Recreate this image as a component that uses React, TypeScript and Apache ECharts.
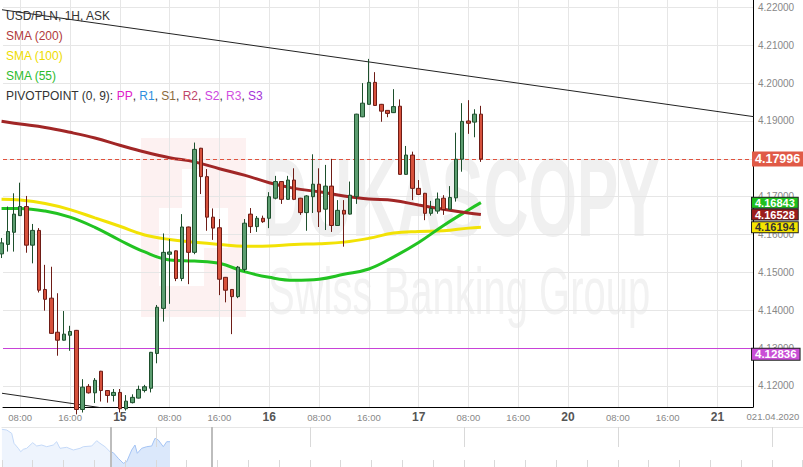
import React, { useEffect, useRef } from 'react';
import * as echarts from 'echarts';

const FONT = '"Liberation Sans", Arial, Helvetica, sans-serif';

// ---------- main chart data (hour index: hours of trading time since 14 Apr 00:00) ----------
const candleStartHour = 5;
const candleOpen = [
  4.1549, 4.1574, 4.1606, 4.1650, 4.1674, 4.1572, 4.1611, 4.1455, 4.1432, 4.1342,
  4.1321, 4.1334, 4.1347, 4.1138, 4.1199, 4.1182, 4.1239, 4.1188, 4.1175, 4.1183,
  4.1140, 4.1156, 4.1168, 4.1188, 4.1194, 4.1286, 4.1405, 4.1548, 4.1557, 4.1484,
  4.1620, 4.1553, 4.1828, 4.1753, 4.1646, 4.1618, 4.1487, 4.1455, 4.1436, 4.1508,
  4.1654, 4.1621, 4.1643, 4.1643, 4.1696, 4.1740, 4.1693, 4.1744, 4.1696, 4.1658,
  4.1700, 4.1733, 4.1667, 4.1728, 4.1624, 4.1664, 4.1654, 4.1700, 4.1911, 4.1944,
  4.2002, 4.1944, 4.1928, 4.1922, 4.1939, 4.1759, 4.1810, 4.1722, 4.1709, 4.1656,
  4.1662, 4.1696, 4.1667, 4.1697, 4.1799, 4.1900, 4.1897, 4.1918,
];
const candleClose = [
  4.1578, 4.1608, 4.1654, 4.1674, 4.1572, 4.1611, 4.1453, 4.1429, 4.1339, 4.1321,
  4.1337, 4.1344, 4.1138, 4.1197, 4.1182, 4.1215, 4.1188, 4.1175, 4.1183, 4.1140,
  4.1160, 4.1170, 4.1191, 4.1198, 4.1289, 4.1408, 4.1553, 4.1554, 4.1484, 4.1620,
  4.1553, 4.1825, 4.1753, 4.1646, 4.1617, 4.1482, 4.1453, 4.1436, 4.1514, 4.1630,
  4.1621, 4.1643, 4.1634, 4.1700, 4.1740, 4.1693, 4.1744, 4.1693, 4.1658, 4.1702,
  4.1733, 4.1660, 4.1728, 4.1624, 4.1664, 4.1654, 4.1704, 4.1918, 4.1947, 4.2002,
  4.1941, 4.1926, 4.1920, 4.1938, 4.1759, 4.1810, 4.1722, 4.1706, 4.1656, 4.1669,
  4.1694, 4.1666, 4.1698, 4.1799, 4.1899, 4.1894, 4.1918, 4.17996,
];
const candleLow = [
  4.1538, 4.1555, 4.1555, 4.1649, 4.1552, 4.1524, 4.1447, 4.1399, 4.1338, 4.1280,
  4.1320, 4.1293, 4.1125, 4.1130, 4.1180, 4.1155, 4.1159, 4.1156, 4.1159, 4.1130,
  4.1135, 4.1154, 4.1167, 4.1183, 4.1183, 4.1260, 4.1370, 4.1417, 4.1477, 4.1477,
  4.1469, 4.1548, 4.1707, 4.1610, 4.1586, 4.1440, 4.1421, 4.1337, 4.1432, 4.1502,
  4.1604, 4.1607, 4.1631, 4.1617, 4.1693, 4.1681, 4.1692, 4.1691, 4.1652, 4.1610,
  4.1657, 4.1620, 4.1612, 4.1607, 4.1623, 4.1568, 4.1653, 4.1681, 4.1910, 4.1943,
  4.1940, 4.1898, 4.1910, 4.1921, 4.1758, 4.1758, 4.1691, 4.1705, 4.1638, 4.1650,
  4.1655, 4.1652, 4.1666, 4.1687, 4.1766, 4.1866, 4.1857, 4.1792,
];
const candleHigh = [
  4.1591, 4.1674, 4.1709, 4.1737, 4.1702, 4.1628, 4.1617, 4.1520, 4.1515, 4.1445,
  4.1398, 4.1359, 4.1348, 4.1218, 4.1205, 4.1221, 4.1240, 4.1189, 4.1192, 4.1192,
  4.1176, 4.1178, 4.1201, 4.1203, 4.1290, 4.1414, 4.1603, 4.1588, 4.1558, 4.1654,
  4.1621, 4.1843, 4.1829, 4.1773, 4.1669, 4.1641, 4.1488, 4.1456, 4.1517, 4.1641,
  4.1670, 4.1649, 4.1650, 4.1712, 4.1755, 4.1741, 4.1755, 4.1775, 4.1697, 4.1704,
  4.1812, 4.1775, 4.1784, 4.1800, 4.1691, 4.1691, 4.1740, 4.1919, 4.2000, 4.2064,
  4.2029, 4.1945, 4.1929, 4.1984, 4.1957, 4.1834, 4.1819, 4.1744, 4.1710, 4.1689,
  4.1711, 4.1704, 4.1728, 4.1869, 4.1947, 4.1955, 4.1931, 4.1940,
];

const smaHours = [5, 8, 12, 16, 20, 24, 28, 32, 36, 40, 44, 48, 52, 56, 60, 64, 68, 72, 76, 80, 82];
const sma200 = [4.1899, 4.1892, 4.1883, 4.1870, 4.1855, 4.1836, 4.1818, 4.1803, 4.1792, 4.1774, 4.1757,
  4.1737, 4.1722, 4.1713, 4.1702, 4.1694, 4.1690, 4.1678, 4.1667, 4.1657, 4.16528];
const sma100 = [4.1693, 4.1691, 4.1682, 4.1666, 4.1644, 4.1622, 4.1599, 4.1587, 4.1580, 4.1574, 4.1569,
  4.1570, 4.1574, 4.1576, 4.1580, 4.1590, 4.1604, 4.1608, 4.1610, 4.1617, 4.16194];
const sma55 = [4.1669, 4.1669, 4.1662, 4.1646, 4.1619, 4.1585, 4.1554, 4.1533, 4.1530, 4.1524, 4.1502,
  4.1487, 4.1479, 4.1482, 4.1495, 4.1509, 4.1541, 4.1579, 4.1624, 4.1665, 4.16843];

const trendUpper = [[5, 4.2194], [126, 4.1911]];
const trendLower = [[5, 4.1181], [30, 4.1121]];

const lastPrice = 4.17996;
const pivotLevel = 4.12836;

const xTickHours = [8, 16, 24, 32, 40, 48, 56, 64, 72, 80, 88, 96, 104, 112, 120];
const xTickLabels = ['08:00', '16:00', '15', '08:00', '16:00', '16', '08:00', '16:00', '17',
  '08:00', '16:00', '20', '08:00', '16:00', '21'];

const X_MIN = 5.232;
const X_MAX = 125.712;
const Y_MIN = 4.114453;
const Y_MAX = 4.221955;

// ---------- navigator data ----------
const navLeftPos = [0, 0.156, 0.318, 0.393, 0.532, 0.61, 0.695, 0.805, 1.0, 1.13, 1.292, 1.455,
  1.669, 1.779, 1.886, 2.104, 2.318, 2.536, 2.643, 2.916, 3.078, 3.185, 3.347, 3.51];
const navLeftVals = [4.2308, 4.228, 4.2148, 4.1748, 4.1548, 4.1412, 4.1508, 4.1548, 4.1772, 4.164,
  4.168, 4.1612, 4.168, 4.1812, 4.1548, 4.1588, 4.148, 4.1548, 4.1612, 4.164, 4.1852, 4.1748, 4.1612, 4.1412];
const navWinPos = [3.51, 3.617, 3.779, 3.942, 4.052, 4.214, 4.321, 4.396, 4.539, 4.701, 4.864,
  4.971, 5.078, 5.24, 5.351, 5.458];
const navWinVals = [4.1412, 4.1372, 4.1148, 4.0948, 4.1012, 4.148, 4.168, 4.1348, 4.1548, 4.1612,
  4.164, 4.1948, 4.188, 4.1612, 4.1812, 4.1812];
const navWindow = [3.542, 6.821];
const navDayTicks = [0, 1, 2, 3, 4, 5, 6, 7, 8, 9, 10, 11, 12, 13, 14, 15, 16, 17, 18, 19, 20, 21, 22, 23, 24, 25, 26];
const navWeekTicks = [5, 10, 15, 20, 25];

function smaSeries(values: number[], color: string) {
  return {
    type: 'line',
    xAxisIndex: 0,
    yAxisIndex: 0,
    data: smaHours.map((h, i) => [h, values[i]]),
    smooth: 0.4,
    symbol: 'none',
    lineStyle: { color, width: 3 },
    z: 4,
    silent: true,
  };
}

export default function App() {
  const ref = useRef<HTMLDivElement>(null);

  useEffect(() => {
    if (!ref.current) return;
    const chart = echarts.init(ref.current, undefined, { renderer: 'svg' });

    const candleData = candleOpen.map((o, i) => [candleStartHour + i, o, candleClose[i], candleLow[i], candleHigh[i]]);
    const richBase = { fontSize: 12, fontFamily: FONT };

    const option: any = {
      animation: false,
      grid: [
        { left: 0, top: 0, width: 753, height: 407 },
        { left: 1.9, top: 427, width: 800.8, height: 40 },
      ],
      xAxis: [
        {
          type: 'value', gridIndex: 0, min: X_MIN, max: X_MAX, minInterval: 8, maxInterval: 8,
          axisLine: { show: true, onZero: false, lineStyle: { color: '#000', width: 1 } },
          axisTick: { show: false },
          splitLine: { show: true, showMinLine: false, showMaxLine: false, lineStyle: { color: '#e6e6e6', width: 1 } },
          axisLabel: {
            margin: 3, fontSize: 9.5, color: '#888', fontFamily: FONT, lineHeight: 14,
            formatter: (v: number) => {
              const i = xTickHours.findIndex((h) => Math.abs(h - v) < 1e-6);
              if (i < 0) return '';
              const s = xTickLabels[i];
              return s.indexOf(':') >= 0 ? s : '{d|' + s + '}';
            },
            rich: { d: { fontSize: 12, fontWeight: 'bold', color: '#555', lineHeight: 14, fontFamily: FONT } },
          },
        },
        {
          type: 'value', gridIndex: 1, min: 0, max: 26, minInterval: 1, maxInterval: 1,
          axisLine: { show: false }, axisLabel: { show: false }, splitLine: { show: false },
          axisTick: { show: true, inside: true, length: 7, customValues: navDayTicks, lineStyle: { color: '#d9d9d9' } },
        },
        {
          type: 'value', gridIndex: 1, min: 0, max: 26, minInterval: 5, maxInterval: 5,
          axisLine: { show: false }, axisLabel: { show: false }, splitLine: { show: false },
          axisTick: { show: true, inside: true, length: 20, customValues: navWeekTicks, lineStyle: { color: '#d9d9d9' } },
        },
        {
          type: 'value', gridIndex: 1, min: 0, max: 26, position: 'top',
          axisLine: { show: true, onZero: false, lineStyle: { color: '#e6e6e6' } },
          axisTick: { show: false }, axisLabel: { show: false }, splitLine: { show: false },
        },
      ],
      yAxis: [
        {
          type: 'value', gridIndex: 0, position: 'right', min: Y_MIN, max: Y_MAX,
          minInterval: 0.01, maxInterval: 0.01,
          axisLine: { show: true, onZero: false, lineStyle: { color: '#000', width: 1 } },
          axisTick: { show: false },
          splitLine: { show: true, showMinLine: false, showMaxLine: false, lineStyle: { color: '#e6e6e6', width: 1 } },
          axisLabel: {
            margin: 5, fontSize: 10, color: '#888', fontFamily: FONT, hideOverlap: false,
            formatter: (v: number) => (Math.abs(v * 100 - Math.round(v * 100)) < 1e-6 ? v.toFixed(5) : ''),
          },
        },
        { type: 'value', gridIndex: 1, min: 4.08, max: 4.24, show: false },
      ],
      series: [
        {
          type: 'line', xAxisIndex: 0, yAxisIndex: 0, data: trendUpper, symbol: 'none',
          lineStyle: { color: '#222', width: 1 }, z: 3, silent: true,
          markLine: {
            symbol: ['none', 'none'], silent: true, animation: false, label: { show: false },
            data: [
              { yAxis: lastPrice, lineStyle: { color: '#e0533f', type: [4, 3], width: 1 } },
              { yAxis: pivotLevel, lineStyle: { color: '#c842d8', type: 'solid', width: 1 } },
            ],
          },
        },
        {
          type: 'line', xAxisIndex: 0, yAxisIndex: 0, data: trendLower, symbol: 'none',
          lineStyle: { color: '#222', width: 1 }, z: 3, silent: true,
        },
        smaSeries(sma100, '#f2e205'),
        smaSeries(sma55, '#22c322'),
        smaSeries(sma200, '#a12626'),
        {
          type: 'candlestick', xAxisIndex: 0, yAxisIndex: 0, data: candleData, barWidth: 4, z: 5,
          itemStyle: { color: '#5c9d70', color0: '#d6513c', borderColor: '#1d4f2c', borderColor0: '#6e1c16', borderWidth: 1 },
        },
        {
          type: 'line', xAxisIndex: 1, yAxisIndex: 1, data: navLeftPos.map((p, i) => [p, navLeftVals[i]]),
          symbol: 'none', silent: true, lineStyle: { color: '#c4d9f8', width: 1 },
          areaStyle: { color: '#eef4fd', opacity: 1 }, z: -1,
        },
        {
          type: 'line', xAxisIndex: 1, yAxisIndex: 1, data: navWinPos.map((p, i) => [p, navWinVals[i]]),
          symbol: 'none', silent: true, lineStyle: { color: '#a4c4f5', width: 1 },
          areaStyle: { color: '#dbe8fb', opacity: 1 }, z: -1,
          markLine: {
            symbol: ['none', 'none'], silent: true, animation: false, label: { show: false },
            lineStyle: { color: '#bdbdbd', width: 2, type: 'solid' },
            data: navWindow.map((x) => ({ xAxis: x })),
          },
        },
      ],
    };

    chart.setOption(option);

    // price tags on the right axis, placed through the y axis scale
    const tags = [
      { v: lastPrice, bg: '#e05a47', fg: '#fff', size: 12.5, lh: 13, pad: [1, 3, 1, 3], border: false },
      { v: pivotLevel, bg: '#c94fd6', fg: '#fff', size: 11.5, lh: 11, pad: [0, 3, 0, 3], border: true },
      { v: sma200[sma200.length - 1], bg: '#9b1d1d', fg: '#fff', size: 11, lh: 10, pad: [0, 3, 0, 3], border: true },
      { v: sma100[sma100.length - 1], bg: '#f5e400', fg: '#333', size: 11, lh: 10, pad: [0, 3, 0, 3], border: true },
      { v: sma55[sma55.length - 1], bg: '#1fc01f', fg: '#fff', size: 11, lh: 10, pad: [0, 3, 0, 3], border: true },
    ];
    const tagElements = tags.map((tg, i) => {
      const y = chart.convertToPixel({ yAxisIndex: 0 }, tg.v) as number;
      return {
        type: 'text', z: 30 + i, x: 752, y,
        style: {
          text: tg.v.toFixed(5), fill: tg.fg, font: 'bold ' + tg.size + 'px ' + FONT,
          backgroundColor: tg.bg, borderColor: tg.border ? '#222' : tg.bg, borderWidth: tg.border ? 1 : 0,
          padding: tg.pad, lineHeight: tg.lh, verticalAlign: 'middle', textVerticalAlign: 'middle',
        },
      };
    });

    const mid = { verticalAlign: 'middle', textVerticalAlign: 'middle' };
    chart.setOption({
      graphic: {
        elements: [
          { type: 'rect', z: -10, silent: true, shape: { x: 141, y: 138, width: 105, height: 179 }, style: { fill: '#fdf1f1' } },
          { type: 'rect', z: -9, silent: true, shape: { x: 159, y: 208, width: 69, height: 40 }, style: { fill: '#ffffff' } },
          { type: 'rect', z: -9, silent: true, shape: { x: 159, y: 208, width: 45, height: 78 }, style: { fill: '#ffffff' } },
          { type: 'rect', z: -9, silent: true, shape: { x: 182, y: 169, width: 22, height: 40 }, style: { fill: '#ffffff' } },
          {
            type: 'text', z: -10, silent: true, x: 262, y: 197, scaleX: 0.556,
            style: { text: 'DUKASCOPY', fill: '#f0f0f0', font: 'bold 112px ' + FONT, ...mid },
          },
          {
            type: 'text', z: -10, silent: true, x: 268, y: 291, scaleX: 0.597,
            style: { text: 'Swiss Banking Group', fill: '#f2f2f2', font: '67px ' + FONT, ...mid },
          },
          { type: 'text', z: 20, x: 6, y: 16, style: { text: 'USD/PLN, 1H, ASK', fill: '#333', font: '12px ' + FONT, ...mid } },
          { type: 'text', z: 20, x: 6, y: 36, style: { text: 'SMA (200)', fill: '#b03a3a', font: '12px ' + FONT, ...mid } },
          { type: 'text', z: 20, x: 6, y: 56, style: { text: 'SMA (100)', fill: '#eedc00', font: '12px ' + FONT, ...mid } },
          { type: 'text', z: 20, x: 6, y: 76, style: { text: 'SMA (55)', fill: '#2dbb2d', font: '12px ' + FONT, ...mid } },
          {
            type: 'text', z: 20, x: 6, y: 96,
            style: {
              text: '{t|PIVOTPOINT (0, 9): }{pp|PP}{t|, }{r1|R1}{t|, }{s1|S1}{t|, }{r2|R2}{t|, }{s2|S2}{t|, }{r3|R3}{t|, }{s3|S3}',
              font: '12px ' + FONT, ...mid,
              rich: {
                t: { ...richBase, fill: '#333' },
                pp: { ...richBase, fill: '#e020c8' },
                r1: { ...richBase, fill: '#2d8fe0' },
                s1: { ...richBase, fill: '#8a6a3c' },
                r2: { ...richBase, fill: '#c0446a' },
                s2: { ...richBase, fill: '#cc44e0' },
                r3: { ...richBase, fill: '#d24fe0' },
                s3: { ...richBase, fill: '#a435d8' },
              },
            },
          },
          { type: 'text', z: 20, x: 773, y: 416.5, style: { text: '021.04.2020', fill: '#888', font: '9.5px ' + FONT, align: 'center', textAlign: 'center', ...mid } },
          ...tagElements,
        ],
      },
    });

    return () => chart.dispose();
  }, []);

  return <div ref={ref} style={{ position: 'absolute', left: 0, top: 0, width: 803, height: 467 }} />;
}
